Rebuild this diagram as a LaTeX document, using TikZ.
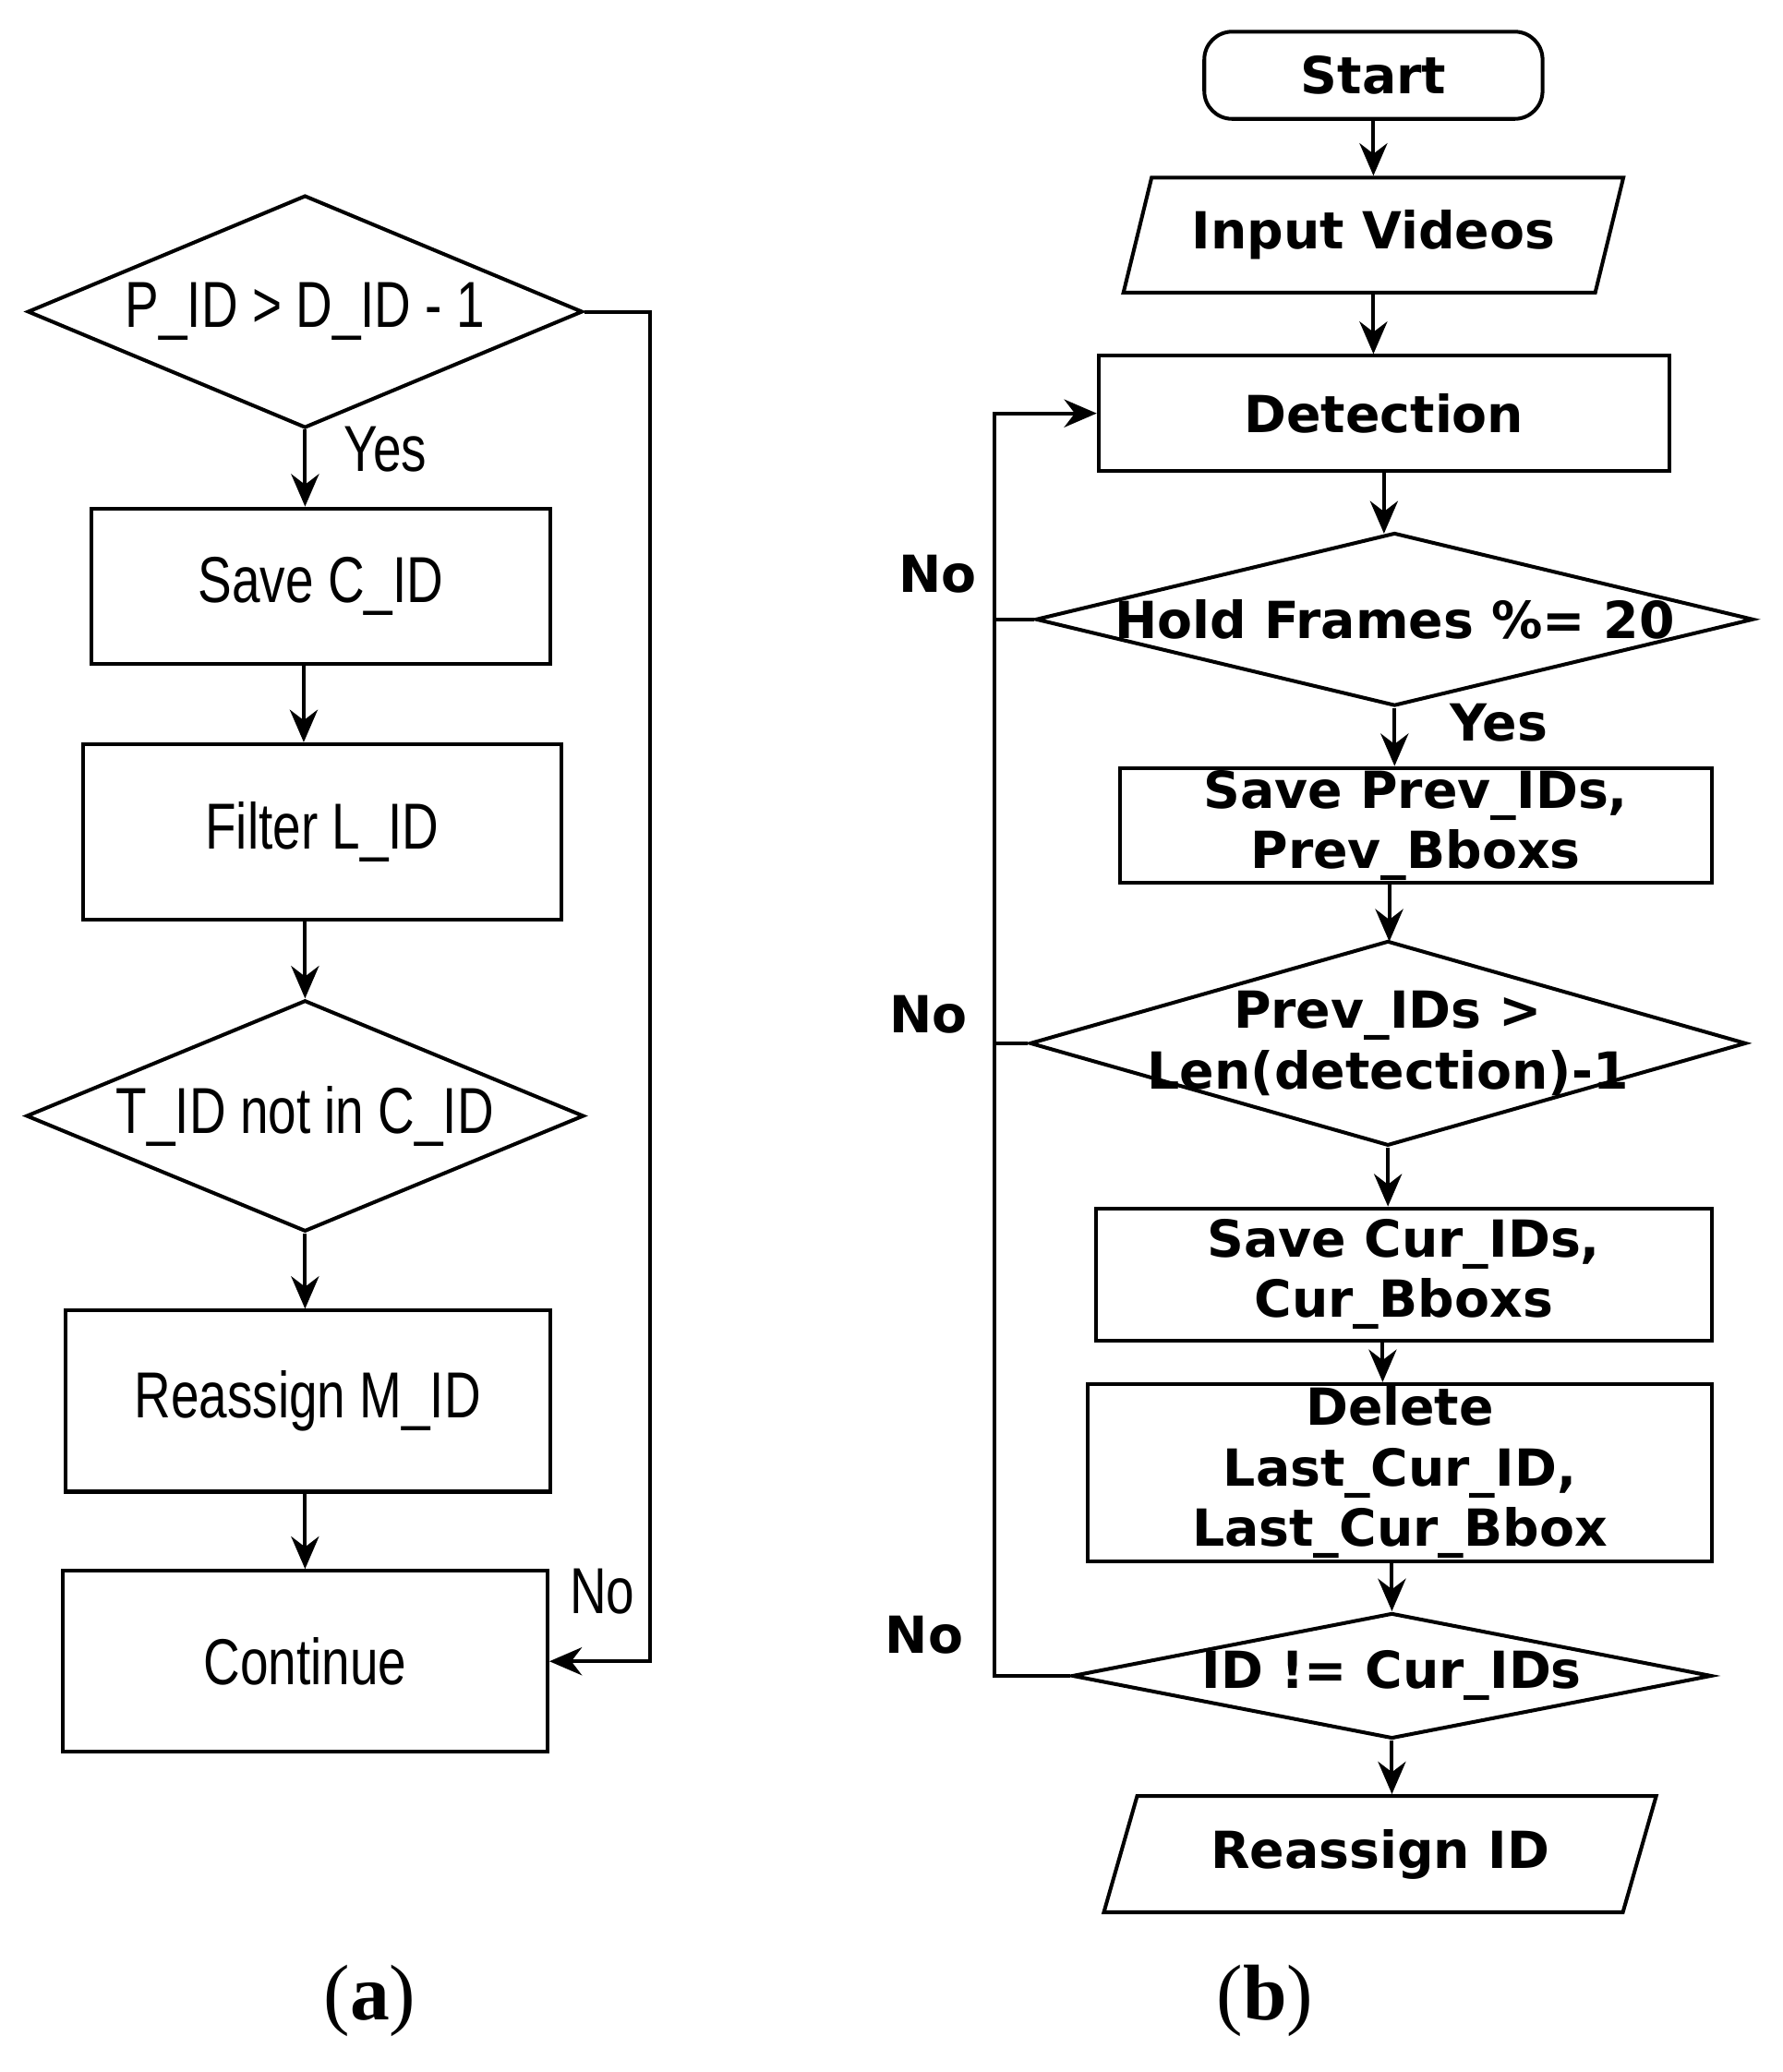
\documentclass[tikz,border=0pt]{standalone}
\usepackage{fontspec}
\setmainfont{Liberation Serif}
\newfontfamily\narrowsf{Liberation Sans}[FakeStretch=0.78]
\newfontfamily\widesf{DejaVu Sans}
\usetikzlibrary{shapes.geometric,arrows.meta}

\tikzset{
  lbox/.style={draw,thick,minimum width=#1,inner sep=0pt,font=\narrowsf\fontsize{14}{16}\selectfont},
  ldia/.style={draw,thick,diamond,inner sep=0pt},
  ltxt/.style={font=\narrowsf\fontsize{14}{16}\selectfont},
  rbox/.style={draw,thick,inner sep=0pt,align=center,font=\widesf\bfseries\fontsize{11}{13}\selectfont},
  rdia/.style={draw,thick,diamond,inner sep=0pt},
  rtxt/.style={align=center,font=\widesf\bfseries\fontsize{11}{13}\selectfont},
  io/.style={rbox,trapezium,trapezium left angle=65,trapezium right angle=115,trapezium stretches=true},
  arr/.style={-{Stealth[length=7pt,width=6pt]},thick},
  lab/.style={font=\narrowsf\fontsize{14}{16}\selectfont},
  rlab/.style={font=\widesf\bfseries\fontsize{11}{13}\selectfont}
}

\begin{document}
\begin{tikzpicture}[x=0.01cm,y=-0.01cm]
\useasboundingbox (0,0) rectangle (1350,1569);
% (a)
\node[ldia,aspect=2.39,minimum width=4.2cm,minimum height=1.76cm] (d1) at (231,236) {};
\node[ltxt] at (d1) {P\_ID > D\_ID - 1};
\node[lbox=3.47cm,minimum height=1.18cm] (s1) at (243,444) {Save C\_ID};
\node[lbox=3.62cm,minimum height=1.33cm] (f1) at (244,630) {Filter L\_ID};
\node[ldia,aspect=2.41,minimum width=4.22cm,minimum height=1.75cm] (d2) at (231,845) {};
\node[ltxt] at (d2) {T\_ID not in C\_ID};
\node[lbox=3.67cm,minimum height=1.37cm] (r1) at (233,1061) {Reassign M\_ID};
\node[lbox=3.67cm,minimum height=1.37cm] (c1) at (231,1258) {Continue};
\coordinate (na) at (492,236);
\coordinate (nb) at (492,1258);
\draw[arr] (d1.south) -- (d1.south |- s1.north);
\draw[arr] (s1.south -| 230,0) -- (f1.north -| 230,0);
\draw[arr] (f1.south -| d2.north) -- (d2.north);
\draw[arr] (d2.south) -- (d2.south |- r1.north);
\draw[arr] (r1.south -| c1.north) -- (c1.north);
\draw[arr] (d1.east) -- (na) -- (nb) -- (c1.east);
\node[lab] at (292,340) {Yes};
\node[lab] at (456,1205) {No};
\node[font=\fontsize{17}{20}\selectfont] at (280,1515) {(\textbf{a})};
% (b)
\node[rbox,rounded corners=6pt,minimum width=2.56cm,minimum height=0.66cm] (st) at (1040,57) {Start};
\node[io,minimum width=3.8cm,minimum height=0.87cm] (in) at (1040,178) {Input Videos};
\node[rbox,minimum width=4.32cm,minimum height=0.87cm] (det) at (1048,313) {Detection};
\node[rdia,aspect=4.15,minimum width=5.43cm,minimum height=1.31cm] (hf) at (1056,469) {};
\node[rtxt] at (hf) {Hold Frames \%= 20};
\node[rbox,minimum width=4.48cm,minimum height=0.87cm] (sp) at (1072,625) {Save Prev\_IDs,\\Prev\_Bboxs};
\node[rdia,aspect=3.5,minimum width=5.42cm,minimum height=1.55cm] (pl) at (1051,790) {};
\node[rtxt] at (pl) {Prev\_IDs >\\Len(detection)-1};
\node[rbox,minimum width=4.66cm,minimum height=1.0cm] (sc) at (1063,965) {Save Cur\_IDs,\\Cur\_Bboxs};
\node[rbox,minimum width=4.73cm,minimum height=1.34cm] (dl) at (1060,1115) {Delete\\Last\_Cur\_ID,\\Last\_Cur\_Bbox};
\node[rdia,aspect=5.1,minimum width=4.84cm,minimum height=0.95cm] (id) at (1054,1269) {};
\node[rtxt] at (id) {ID != Cur\_IDs};
\node[io,minimum width=4.2cm,minimum height=0.88cm] (ra) at (1045,1404) {Reassign ID};
\coordinate (lt) at (753,313);
\coordinate (lb) at (753,1269);
\draw[arr] (st.south -| 1040,0) -- (in.north -| 1040,0);
\draw[arr] (in.south -| 1040,0) -- (det.north -| 1040,0);
\draw[arr] (det.south -| 1048,0) -- (1048,404);
\draw[arr] (hf.south) -- (sp.north -| hf.south);
\draw[arr] (sp.south -| 1052,0) -- (1052,713);
\draw[arr] (pl.south) -- (sc.north -| pl.south);
\draw[arr] (sc.south -| 1047,0) -- (dl.north -| 1047,0);
\draw[arr] (dl.south -| id.north) -- (id.north);
\draw[arr] (id.south) -- (id.south |- ra.north);
\draw[arr] (id.west) -- (lb) -- (lt) -- (det.west);
\draw[thick] (hf.west) -- (hf.west -| lt);
\draw[thick] (pl.west) -- (pl.west -| lt);
\node[rlab] at (1135,547) {Yes};
\node[rlab] at (710,435) {No};
\node[rlab] at (703,768) {No};
\node[rlab] at (700,1238) {No};
\node[font=\fontsize{17}{20}\selectfont] at (958,1515) {(\textbf{b})};
\end{tikzpicture}
\end{document}
